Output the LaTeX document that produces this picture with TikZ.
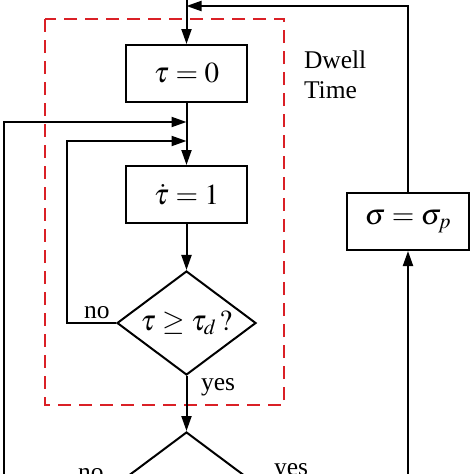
\documentclass[tikz,border=0pt]{standalone}
\usepackage{mathptmx}
\usepackage{fontspec}
\setmainfont{Liberation Serif}
\usetikzlibrary{shapes.geometric,arrows.meta}
\definecolor{dwellred}{RGB}{218,32,38}
\begin{document}
\begin{tikzpicture}[x=1pt,y=-1pt,
  line width=2pt,
  proc/.style={draw,rectangle,minimum width=121pt,minimum height=57pt,inner sep=0pt,font=\fontsize{29}{32}\selectfont},
  deci/.style={draw,diamond,minimum width=139pt,minimum height=104pt,inner sep=0pt,aspect=1.34,font=\fontsize{29}{32}\selectfont},
  lbl/.style={font=\fontsize{25.5}{30}\selectfont,inner sep=0pt},
  flow/.style={-{Triangle[length=15pt,width=10pt]}},
  dwellbox/.style={draw=dwellred,line width=2pt,dash pattern=on 13pt off 8pt}
]
\useasboundingbox (0,0) rectangle (474,474);
\clip (0,0) rectangle (474,474);

% dwell time frame
\draw[dwellbox] (45,19) rectangle (284,405);

% nodes
\node[proc] (b1) at (186.5,73.5) {$\tau=0$};
\node[proc] (b2) at (186.5,194.5) {$\dot{\tau}=1$};
\node[deci] (d1) at (186.5,323) {$\tau\geq\tau_{d}\,?$};
\node[deci] (d2) at (186.5,484) {};
\node[proc,minimum width=122pt] (b3) at (408,221.5) {$\sigma=\sigma_{p}$};

\node[lbl,anchor=base west,align=left] (dwell) at (303,98) {Dwell\\Time};
\node[lbl,anchor=base west] (no1) at (83,318) {no};
\node[lbl,anchor=base west] (yes1) at (200,390) {yes};
\node[lbl,anchor=base west] (no2) at (77,480) {no};
\node[lbl,anchor=base west] (yes2) at (273,475) {yes};

% coordinates
\coordinate (top) at (186.5,-5);
\coordinate (m0) at (186.5,6);
\coordinate (m1) at (186.5,122);
\coordinate (m2) at (186.5,141);
\coordinate (L1) at (4,122);
\coordinate (L2) at (67,141);

% connectors
\draw[flow] (top) -- (b1);
\draw[flow] (b1) -- (b2);
\draw[flow] (b2) -- (d1);
\draw[flow] (d1) -- (d2);
\draw[flow] (d1.west) -| (L2) -- (m2);
\draw[flow] (d2.west) -| (L1) -- (m1);
\draw[flow] (d2.east) -| (b3.south);
\draw[flow] (b3.north) |- (m0);
\end{tikzpicture}
\end{document}
